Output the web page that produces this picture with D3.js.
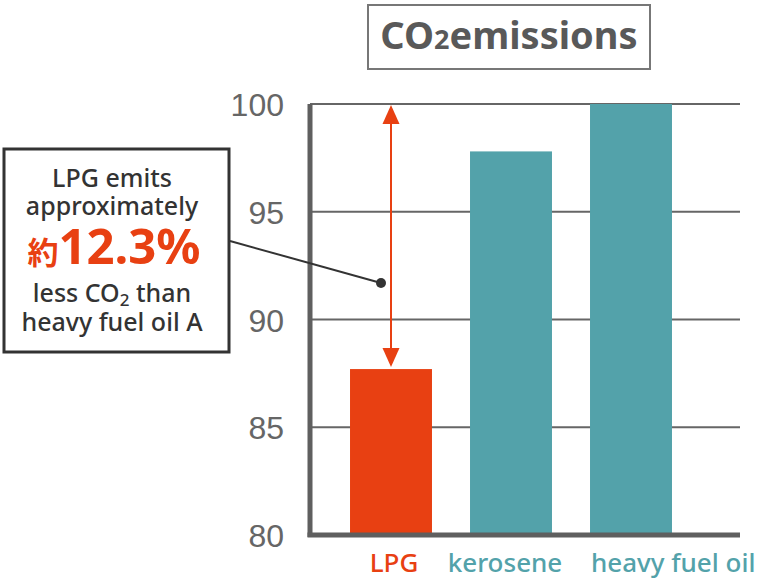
<!DOCTYPE html>
<html><head><meta charset="utf-8">
<script src="https://cdn.jsdelivr.net/npm/d3@7"></script>
<style>html,body{margin:0;padding:0;background:#fff;}svg{display:block;}</style>
</head><body>
<svg id="c" width="760" height="584"></svg>
<script>
const categories = ["LPG", "kerosene", "heavy fuel oil"];
const values = [87.7, 97.8, 100];
const barColors = ["#e84012", "#53a2aa", "#53a2aa"];
const tickValues = [80, 85, 90, 95, 100];
const reduction = 12.3;

const svg = d3.select("#c");
const axisX = 310, right = 740;
const y = d3.scaleLinear().domain([80, 100]).range([535, 104]);
const x = d3.scaleBand().domain(categories).range([331, 691]).paddingInner(0.317).paddingOuter(0.1585);

// gridlines
svg.append("g").selectAll("line").data(tickValues.filter(d => d > 80)).join("line")
  .attr("x1", axisX).attr("x2", right)
  .attr("y1", d => y(d)).attr("y2", d => y(d))
  .attr("stroke", "#666").attr("stroke-width", 2);

// bars
svg.append("g").selectAll("rect").data(values).join("rect")
  .attr("x", (d, i) => x(categories[i]))
  .attr("width", x.bandwidth())
  .attr("y", d => y(d))
  .attr("height", d => y(80) - y(d))
  .attr("fill", (d, i) => barColors[i]);

// axes lines
svg.append("line").attr("x1", axisX).attr("x2", axisX).attr("y1", y(100)).attr("y2", y(80) + 2)
  .attr("stroke", "#5f5f5f").attr("stroke-width", 5);
svg.append("line").attr("x1", axisX - 2.5).attr("x2", right).attr("y1", y(80)).attr("y2", y(80))
  .attr("stroke", "#5f5f5f").attr("stroke-width", 5);

// tick labels
const yAxis = d3.axisLeft(y).tickValues(tickValues).tickSize(0).tickPadding(0);
const gy = svg.append("g").attr("transform", `translate(284,0)`).call(yAxis);
gy.select(".domain").remove();
gy.selectAll("text").attr("font-family", "'Liberation Sans', Arial, sans-serif")
  .attr("font-size", 32).attr("fill", "#666").attr("dy", "0.36em");

// category labels
const labelX = [394, 505, 591];
const labelAnchor = ["middle", "middle", "start"];
const labelColors = ["#e84012", "#53a2aa", "#53a2aa"];
svg.append("g").selectAll("text").data(categories).join("text")
  .attr("x", (d, i) => labelX[i]).attr("y", 572)
  .attr("text-anchor", (d, i) => labelAnchor[i])
  .attr("font-family", "'Noto Sans', sans-serif").attr("font-size", 26).attr("font-weight", 500)
  .attr("fill", (d, i) => labelColors[i]).text(d => d);

// title
svg.append("rect").attr("x", 368).attr("y", 5).attr("width", 282).attr("height", 64)
  .attr("fill", "#fff").attr("stroke", "#777").attr("stroke-width", 2);
const t = svg.append("text").attr("x", 509).attr("y", 49).attr("text-anchor", "middle")
  .attr("font-family", "'Noto Sans', sans-serif").attr("font-weight", 700).attr("fill", "#595959");
t.append("tspan").attr("font-size", 38).text("CO");
t.append("tspan").attr("font-size", 27).text("2");
t.append("tspan").attr("font-size", 38).text("emissions");

// red double arrow
const ax = x(categories[0]) + x.bandwidth() / 2;
svg.append("line").attr("x1", ax).attr("x2", ax).attr("y1", y(100) + 4).attr("y2", y(values[0]) - 4)
  .attr("stroke", "#e84012").attr("stroke-width", 2);
const headW = 8.5, headL = 19;
svg.append("path").attr("d", `M${ax},${y(100) + 1} L${ax - headW},${y(100) + 1 + headL} L${ax + headW},${y(100) + 1 + headL} Z`).attr("fill", "#e84012");
svg.append("path").attr("d", `M${ax},${y(values[0]) - 2} L${ax - headW},${y(values[0]) - 2 - headL} L${ax + headW},${y(values[0]) - 2 - headL} Z`).attr("fill", "#e84012");

// connector
svg.append("line").attr("x1", 230).attr("y1", 241).attr("x2", 381).attr("y2", 283)
  .attr("stroke", "#333").attr("stroke-width", 2);
svg.append("circle").attr("cx", 381).attr("cy", 283).attr("r", 5).attr("fill", "#333");

// annotation box
svg.append("rect").attr("x", 4).attr("y", 149).attr("width", 225).attr("height", 203)
  .attr("fill", "#fff").attr("stroke", "#333").attr("stroke-width", 3);
const ff = "'Noto Sans', sans-serif";
const cx = 112;
const fs = 25;
svg.append("text").attr("x", cx).attr("y", 187).attr("text-anchor", "middle").attr("font-family", ff)
  .attr("font-size", fs).attr("font-weight", 500).attr("fill", "#333").text("LPG emits");
svg.append("text").attr("x", cx).attr("y", 215).attr("text-anchor", "middle").attr("font-family", ff)
  .attr("font-size", fs).attr("font-weight", 500).attr("fill", "#333").text("approximately");
const big = svg.append("text").attr("x", cx + 2).attr("y", 264).attr("text-anchor", "middle").attr("font-family", ff)
  .attr("font-weight", 700).attr("fill", "#e84012");
big.append("tspan").attr("font-family", "'Noto Sans CJK JP', sans-serif").attr("font-size", 31).text("約");
big.append("tspan").attr("font-size", 49).text(reduction.toFixed(1) + "%");
const l4 = svg.append("text").attr("x", cx).attr("y", 302).attr("text-anchor", "middle").attr("font-family", ff)
  .attr("font-size", fs).attr("font-weight", 500).attr("fill", "#333");
l4.append("tspan").text("less CO");
l4.append("tspan").attr("font-size", 17).attr("dy", 4).text("2");
l4.append("tspan").attr("dy", -4).text(" than");
svg.append("text").attr("x", cx).attr("y", 331).attr("text-anchor", "middle").attr("font-family", ff)
  .attr("font-size", fs).attr("font-weight", 500).attr("fill", "#333").text("heavy fuel oil A");
</script>
</body></html>
